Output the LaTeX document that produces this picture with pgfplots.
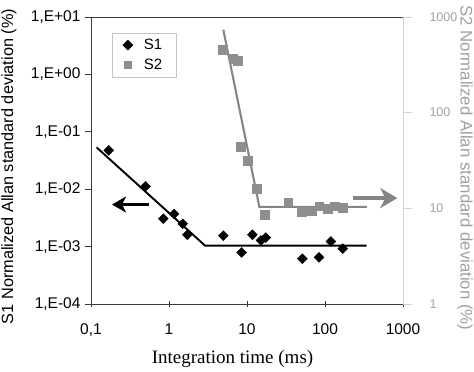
\documentclass[border=0pt]{standalone}
\usepackage{fontspec}
\setmainfont{Liberation Sans}
\newfontfamily\timesfont{Liberation Serif}
\usepackage{pgfplots}
\pgfplotsset{compat=1.18}
\usetikzlibrary{arrows.meta}
\definecolor{sgray}{HTML}{8E8E8E}
\definecolor{lgray}{HTML}{858585}
\definecolor{axgray}{HTML}{D2D2D2}
\definecolor{txgray}{HTML}{A0A0A0}
\definecolor{dark}{HTML}{3A3A3A}

\pgfplotstableread{
x y
0.169 0.0474
0.50 0.0112
0.845 0.00306
1.16 0.0037
1.5 0.0025
1.72 0.00161
4.97 0.00155
8.55 0.00079
11.7 0.00161
15.1 0.00128
17.4 0.00143
51.2 0.000615
83.8 0.00065
119 0.00123
169 0.00092
}\sone
\pgfplotstableread{
x y
0.118 0.0535
2.9 0.00104
343 0.00104
}\sonefit
\pgfplotstableread{
x y
4.88 455
6.67 364
7.6 349
8.3 44.1
10.2 31.5
13.3 16.0
17.0 8.6
33.8 11.6
50.3 9.2
67.5 9.3
83.8 10.5
108 9.9
134 10.5
169 10.1
}\stwo
\pgfplotstableread{
x y
4.97 737
14.4 10.35
343 10.35
}\stwofit

\begin{document}
\begin{tikzpicture}
\useasboundingbox (0,0) rectangle (474pt,372pt);
\begin{axis}[
  at={(91pt,68pt)}, anchor=south west,
  scale only axis, width=312pt, height=287pt,
  xmode=log, ymode=log,
  xmin=0.1, xmax=1000, ymin=1e-4, ymax=10,
  axis x line*=box, axis y line*=left,
  xtick pos=left, ytick pos=left,
  axis line style={dark, line width=0.9pt},
  tick style={dark, line width=0.9pt},
  major tick length=6pt, minor tick length=0pt,
  xtick align=center, ytick align=outside,
  xtick={0.1,1,10,100,1000},
  xticklabels={{0,1},1,10,100,1000},
  ytick={1e-4,1e-3,1e-2,1e-1,1,10},
  yticklabels={{1,E-04},{1,E-03},{1,E-02},{1,E-01},{1,E+00},{1,E+01}},
  ticklabel style={font=\fontsize{15.5}{17}\selectfont},
  xticklabel style={yshift=-13pt},
  yticklabel style={xshift=-1pt},
  xlabel={Integration time (ms)},
  xlabel style={font=\timesfont\fontsize{19}{21}\selectfont, at={(axis description cs:0.4535,-0.193)}, anchor=center},
  ylabel={S1 Normalized Allan standard deviation (\%)},
  ylabel style={font=\fontsize{16.3}{18}\selectfont, at={(axis description cs:-0.263,0.479)}, anchor=center},
  legend style={at={(axis description cs:0.066,0.945)}, anchor=north west,
    draw=gray!45, line width=0.6pt, font=\fontsize{15}{17}\selectfont,
    row sep=4pt, inner xsep=11pt, inner ysep=4pt,
    nodes={inner xsep=3pt}},
  legend cell align=left,
  legend image post style={xshift=11pt},
]
\addplot[only marks, mark=square*, mark options={rotate=45}, mark size=3.5pt, black] table {\sone};
\addlegendentry{\hspace{8pt}S1}
\addplot[black, line width=1.9pt, forget plot] table {\sonefit};
\addlegendimage{only marks, mark=square*, mark size=3.6pt, sgray}
\addlegendentry{\hspace{8pt}S2}
\draw[black, line width=3.5pt, -{Stealth[length=14pt,width=16pt,inset=4pt]}] (axis cs:0.56,5.4e-3) -- (axis cs:0.186,5.4e-3);
\draw[lgray, line width=4.3pt, -{Stealth[length=17pt,width=20pt,inset=5pt]}] (axis cs:226,7.0e-3) -- (axis cs:845,7.0e-3);
\end{axis}
\begin{axis}[
  at={(91pt,68pt)}, anchor=south west,
  scale only axis, width=312pt, height=287pt,
  xmode=log, ymode=log,
  xmin=0.1, xmax=1000, ymin=1, ymax=1000,
  axis x line=none, axis y line*=right,
  y axis line style={axgray, line width=0.9pt},
  ytick style={axgray, line width=0.9pt},
  major tick length=9pt, minor tick length=0pt, ytick align=outside,
  ytick={1,10,100,1000}, yticklabels={1,10,100,1000},
  yticklabel style={txgray, font=\fontsize{12.5}{14}\selectfont, xshift=14pt},
  ylabel={S2 Normalized Allan standard deviation (\%)},
  ylabel style={txgray, font=\fontsize{16.8}{18}\selectfont, at={(axis description cs:1.199,0.474)}, anchor=center, rotate=180},
]
\addplot[only marks, mark=square*, mark size=4.3pt, sgray] table {\stwo};
\addplot[lgray, line width=2.1pt] table {\stwofit};
\end{axis}
\end{tikzpicture}
\end{document}
